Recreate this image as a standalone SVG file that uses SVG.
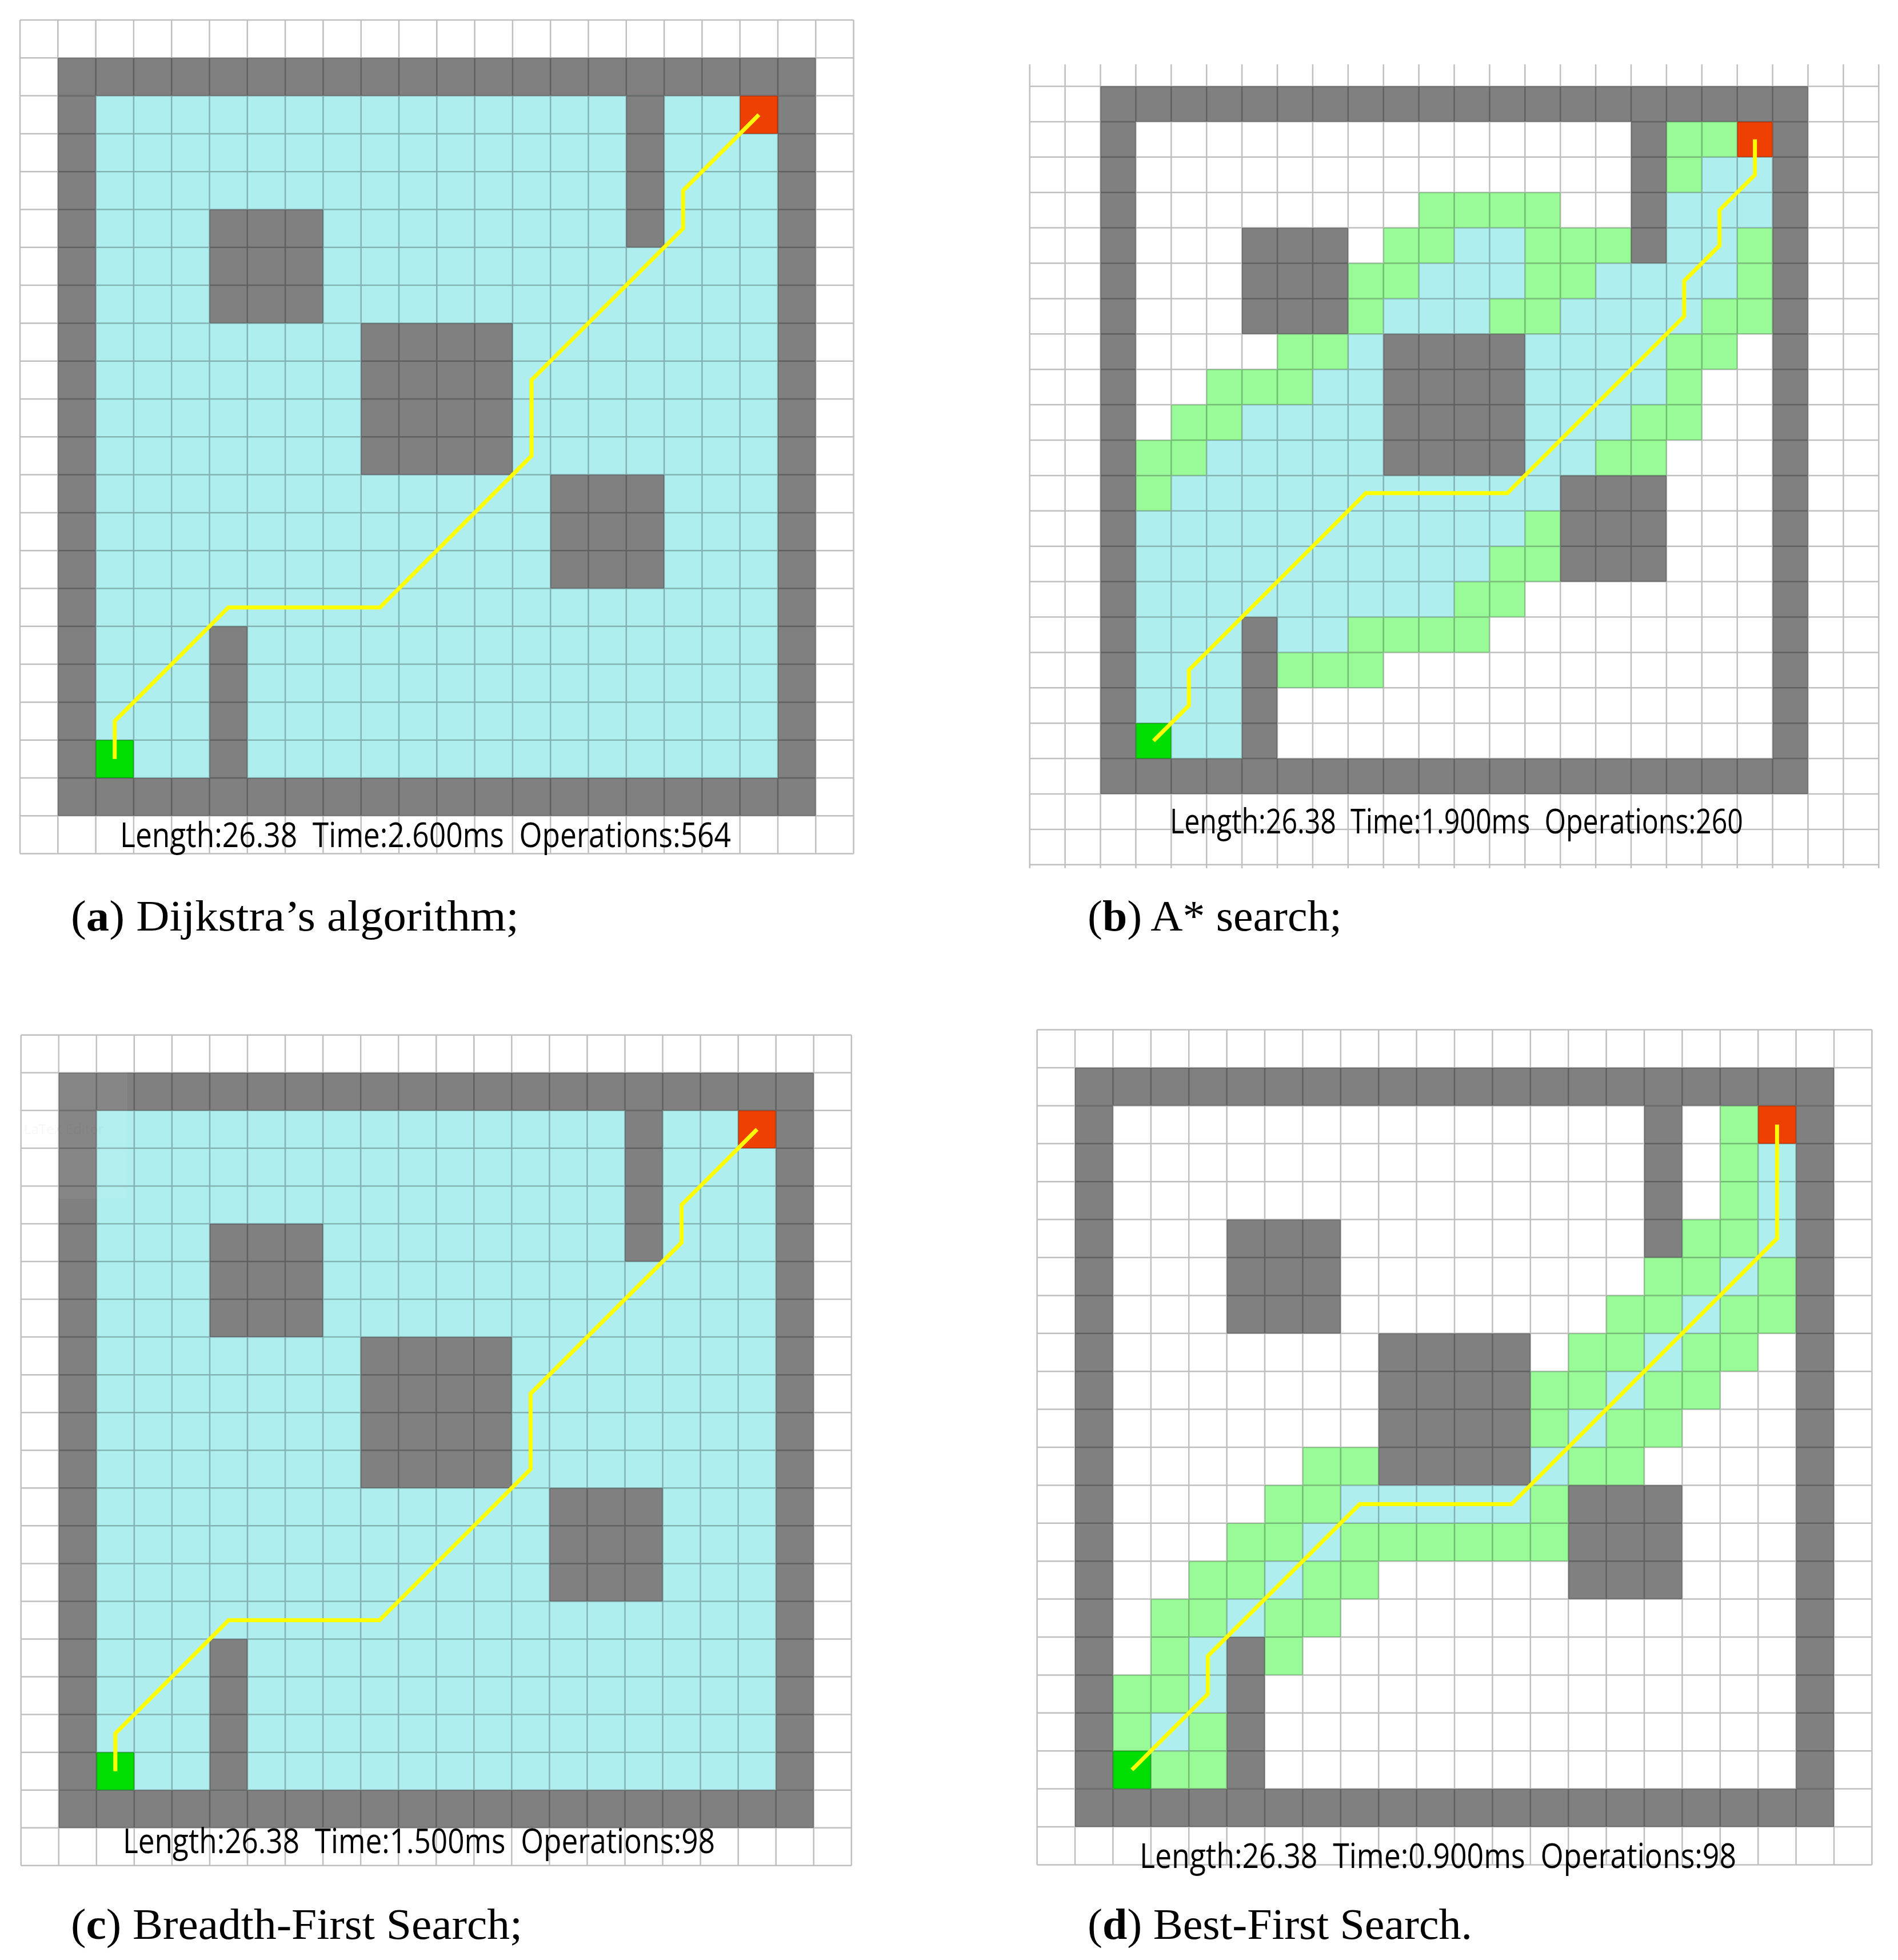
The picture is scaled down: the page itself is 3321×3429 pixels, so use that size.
<svg xmlns="http://www.w3.org/2000/svg" xmlns:xlink="http://www.w3.org/1999/xlink" width="3321" height="3429" viewBox="0 0 3321 3429">
<style>
.w{fill:#808080}
.c{fill:#afeeee}
.g{fill:#98fb98}
.s{fill:#00dd00}
.t{fill:#ee4000}
.grid{fill:none;stroke:#000;stroke-opacity:0.25;stroke-width:2.5}
.route{fill:none;stroke:#ffff00;stroke-width:7;stroke-linejoin:miter}
.lab{font-family:"Open Sans","Liberation Sans",sans-serif;font-size:60px;fill:#000;white-space:pre}
.cap{font-family:"Liberation Serif",serif;font-size:76px;fill:#000}
</style>
<defs>
<g id="maze">
<rect class="w" x="-1" y="-1" width="20" height="1"/>
<rect class="w" x="-1" y="18" width="20" height="1"/>
<rect class="w" x="-1" y="0" width="1" height="18"/>
<rect class="w" x="18" y="0" width="1" height="18"/>
<rect class="w" x="14" y="0" width="1" height="4"/>
<rect class="w" x="3" y="3" width="3" height="3"/>
<rect class="w" x="7" y="6" width="4" height="4"/>
<rect class="w" x="12" y="10" width="3" height="3"/>
<rect class="w" x="3" y="14" width="1" height="4"/>
<rect class="s" x="0" y="17" width="1" height="1"/>
<rect class="t" x="17" y="0" width="1" height="1"/>
</g>
<path id="grid22" class="grid" vector-effect="non-scaling-stroke" d="M-2 -2V20M-1 -2V20M0 -2V20M1 -2V20M2 -2V20M3 -2V20M4 -2V20M5 -2V20M6 -2V20M7 -2V20M8 -2V20M9 -2V20M10 -2V20M11 -2V20M12 -2V20M13 -2V20M14 -2V20M15 -2V20M16 -2V20M17 -2V20M18 -2V20M19 -2V20M20 -2V20M-2 -2H20M-2 -1H20M-2 0H20M-2 1H20M-2 2H20M-2 3H20M-2 4H20M-2 5H20M-2 6H20M-2 7H20M-2 8H20M-2 9H20M-2 10H20M-2 11H20M-2 12H20M-2 13H20M-2 14H20M-2 15H20M-2 16H20M-2 17H20M-2 18H20M-2 19H20M-2 20H20"/>
<polyline id="routeAC" class="route" vector-effect="non-scaling-stroke" points="0.5,17.5 0.5,16.5 3.5,13.5 7.5,13.5 11.5,9.5 11.5,7.5 15.5,3.5 15.5,2.5 17.5,0.5"/>
</defs>

<g id="panel-a" transform="translate(167.6,167.6) scale(66.3)">
<rect class="c" x="0" y="0" width="18" height="18"/>
<use xlink:href="#maze" href="#maze"/>
<use xlink:href="#grid22" href="#grid22"/>
<use xlink:href="#routeAC" href="#routeAC"/>
</g>

<g id="panel-b" transform="translate(1987.4,212.9) scale(61.9)">
<g id="b-open">
<rect class="g" x="15" y="0" width="2" height="1"/>
<rect class="g" x="15" y="1" width="1" height="1"/>
<rect class="g" x="8" y="2" width="4" height="1"/>
<rect class="g" x="7" y="3" width="2" height="1"/>
<rect class="g" x="11" y="3" width="3" height="1"/>
<rect class="g" x="17" y="3" width="1" height="1"/>
<rect class="g" x="6" y="4" width="2" height="1"/>
<rect class="g" x="11" y="4" width="2" height="1"/>
<rect class="g" x="17" y="4" width="1" height="1"/>
<rect class="g" x="6" y="5" width="1" height="1"/>
<rect class="g" x="10" y="5" width="2" height="1"/>
<rect class="g" x="16" y="5" width="2" height="1"/>
<rect class="g" x="4" y="6" width="2" height="1"/>
<rect class="g" x="15" y="6" width="2" height="1"/>
<rect class="g" x="2" y="7" width="3" height="1"/>
<rect class="g" x="15" y="7" width="1" height="1"/>
<rect class="g" x="1" y="8" width="2" height="1"/>
<rect class="g" x="14" y="8" width="2" height="1"/>
<rect class="g" x="0" y="9" width="2" height="1"/>
<rect class="g" x="13" y="9" width="2" height="1"/>
<rect class="g" x="0" y="10" width="1" height="1"/>
<rect class="g" x="11" y="11" width="1" height="1"/>
<rect class="g" x="10" y="12" width="2" height="1"/>
<rect class="g" x="9" y="13" width="2" height="1"/>
<rect class="g" x="6" y="14" width="4" height="1"/>
<rect class="g" x="4" y="15" width="3" height="1"/>
</g>
<g id="b-closed">
<rect class="c" x="16" y="1" width="2" height="1"/>
<rect class="c" x="15" y="2" width="3" height="1"/>
<rect class="c" x="9" y="3" width="2" height="1"/>
<rect class="c" x="15" y="3" width="2" height="1"/>
<rect class="c" x="8" y="4" width="3" height="1"/>
<rect class="c" x="13" y="4" width="4" height="1"/>
<rect class="c" x="7" y="5" width="3" height="1"/>
<rect class="c" x="12" y="5" width="4" height="1"/>
<rect class="c" x="6" y="6" width="1" height="1"/>
<rect class="c" x="11" y="6" width="4" height="1"/>
<rect class="c" x="5" y="7" width="2" height="1"/>
<rect class="c" x="11" y="7" width="4" height="1"/>
<rect class="c" x="3" y="8" width="4" height="1"/>
<rect class="c" x="11" y="8" width="3" height="1"/>
<rect class="c" x="2" y="9" width="5" height="1"/>
<rect class="c" x="11" y="9" width="2" height="1"/>
<rect class="c" x="1" y="10" width="11" height="1"/>
<rect class="c" x="0" y="11" width="11" height="1"/>
<rect class="c" x="0" y="12" width="10" height="1"/>
<rect class="c" x="0" y="13" width="9" height="1"/>
<rect class="c" x="0" y="14" width="3" height="1"/>
<rect class="c" x="4" y="14" width="2" height="1"/>
<rect class="c" x="0" y="15" width="3" height="1"/>
<rect class="c" x="0" y="16" width="3" height="1"/>
<rect class="c" x="1" y="17" width="2" height="1"/>
</g>
<use xlink:href="#maze" href="#maze"/>
<path class="grid" vector-effect="non-scaling-stroke" d="M-3 -1.62V21.1M-2 -1.62V21.1M-1 -1.62V21.1M0 -1.62V21.1M1 -1.62V21.1M2 -1.62V21.1M3 -1.62V21.1M4 -1.62V21.1M5 -1.62V21.1M6 -1.62V21.1M7 -1.62V21.1M8 -1.62V21.1M9 -1.62V21.1M10 -1.62V21.1M11 -1.62V21.1M12 -1.62V21.1M13 -1.62V21.1M14 -1.62V21.1M15 -1.62V21.1M16 -1.62V21.1M17 -1.62V21.1M18 -1.62V21.1M19 -1.62V21.1M20 -1.62V21.1M21 -1.62V21.1M-3 -1H21M-3 0H21M-3 1H21M-3 2H21M-3 3H21M-3 4H21M-3 5H21M-3 6H21M-3 7H21M-3 8H21M-3 9H21M-3 10H21M-3 11H21M-3 12H21M-3 13H21M-3 14H21M-3 15H21M-3 16H21M-3 17H21M-3 18H21M-3 19H21M-3 20H21M-3 21H21"/>
<polyline class="route" vector-effect="non-scaling-stroke" points="0.5,17.5 1.5,16.5 1.5,15.5 6.5,10.5 10.5,10.5 15.5,5.5 15.5,4.5 16.5,3.5 16.5,2.5 17.5,1.5 17.5,0.5"/>
</g>

<g id="panel-c" transform="translate(168.8,1942.8) scale(66.05)">
<rect class="c" x="0" y="0" width="18" height="18"/>
<use xlink:href="#maze" href="#maze"/>
<use xlink:href="#grid22" href="#grid22"/>
<use xlink:href="#routeAC" href="#routeAC"/>
</g>
<g id="c-ghost">
<rect x="37" y="1812" width="186" height="285" rx="12" fill="#fff" fill-opacity="0.05"/>
<text x="42" y="1984" font-family="'Open Sans','Liberation Sans',sans-serif" font-size="24" fill="#000" fill-opacity="0.05">LaTeX Editor</text>
</g>

<g id="panel-d" transform="translate(1947.4,1934.4) scale(66.4)">
<g id="d-open">
<rect class="g" x="16" y="0" width="1" height="3"/>
<rect class="g" x="15" y="3" width="2" height="1"/>
<rect class="g" x="14" y="4" width="2" height="1"/>
<rect class="g" x="17" y="4" width="1" height="1"/>
<rect class="g" x="13" y="5" width="2" height="1"/>
<rect class="g" x="16" y="5" width="2" height="1"/>
<rect class="g" x="12" y="6" width="2" height="1"/>
<rect class="g" x="15" y="6" width="2" height="1"/>
<rect class="g" x="11" y="7" width="2" height="1"/>
<rect class="g" x="14" y="7" width="2" height="1"/>
<rect class="g" x="11" y="8" width="1" height="1"/>
<rect class="g" x="13" y="8" width="2" height="1"/>
<rect class="g" x="5" y="9" width="2" height="1"/>
<rect class="g" x="12" y="9" width="2" height="1"/>
<rect class="g" x="4" y="10" width="2" height="1"/>
<rect class="g" x="11" y="10" width="1" height="1"/>
<rect class="g" x="3" y="11" width="2" height="1"/>
<rect class="g" x="6" y="11" width="6" height="1"/>
<rect class="g" x="2" y="12" width="2" height="1"/>
<rect class="g" x="5" y="12" width="2" height="1"/>
<rect class="g" x="1" y="13" width="2" height="1"/>
<rect class="g" x="4" y="13" width="2" height="1"/>
<rect class="g" x="1" y="14" width="1" height="1"/>
<rect class="g" x="4" y="14" width="1" height="1"/>
<rect class="g" x="0" y="15" width="2" height="1"/>
<rect class="g" x="0" y="16" width="1" height="1"/>
<rect class="g" x="2" y="16" width="1" height="1"/>
<rect class="g" x="1" y="17" width="2" height="1"/>
</g>
<g id="d-closed">
<rect class="c" x="17" y="1" width="1" height="3"/>
<rect class="c" x="16" y="4" width="1" height="1"/>
<rect class="c" x="15" y="5" width="1" height="1"/>
<rect class="c" x="14" y="6" width="1" height="1"/>
<rect class="c" x="13" y="7" width="1" height="1"/>
<rect class="c" x="12" y="8" width="1" height="1"/>
<rect class="c" x="11" y="9" width="1" height="1"/>
<rect class="c" x="6" y="10" width="5" height="1"/>
<rect class="c" x="5" y="11" width="1" height="1"/>
<rect class="c" x="4" y="12" width="1" height="1"/>
<rect class="c" x="3" y="13" width="1" height="1"/>
<rect class="c" x="2" y="14" width="1" height="2"/>
<rect class="c" x="1" y="16" width="1" height="1"/>
</g>
<use xlink:href="#maze" href="#maze"/>
<use xlink:href="#grid22" href="#grid22"/>
<polyline class="route" vector-effect="non-scaling-stroke" points="0.5,17.5 2.5,15.5 2.5,14.5 6.5,10.5 10.5,10.5 17.5,3.5 17.5,0.5"/>
</g>

<g id="labels">
<text class="lab" xml:space="preserve" x="210" y="1482" textLength="1069" lengthAdjust="spacingAndGlyphs">Length:26.38  Time:2.600ms  Operations:564</text>
<text class="lab" xml:space="preserve" x="2047" y="1458" textLength="1003" lengthAdjust="spacingAndGlyphs">Length:26.38  Time:1.900ms  Operations:260</text>
<text class="lab" xml:space="preserve" x="215" y="3242" textLength="1036" lengthAdjust="spacingAndGlyphs">Length:26.38  Time:1.500ms  Operations:98</text>
<text class="lab" xml:space="preserve" x="1994" y="3268" textLength="1044" lengthAdjust="spacingAndGlyphs">Length:26.38  Time:0.900ms  Operations:98</text>
</g>
<g id="captions">
<text class="cap" x="124" y="1628" textLength="784" lengthAdjust="spacingAndGlyphs">(<tspan font-weight="bold">a</tspan>) Dijkstra’s algorithm;</text>
<text class="cap" x="1903" y="1628" textLength="445" lengthAdjust="spacingAndGlyphs">(<tspan font-weight="bold">b</tspan>) A* search;</text>
<text class="cap" x="124" y="3392" textLength="790" lengthAdjust="spacingAndGlyphs">(<tspan font-weight="bold">c</tspan>) Breadth-First Search;</text>
<text class="cap" x="1903" y="3392" textLength="673" lengthAdjust="spacingAndGlyphs">(<tspan font-weight="bold">d</tspan>) Best-First Search.</text>
</g>
</svg>
